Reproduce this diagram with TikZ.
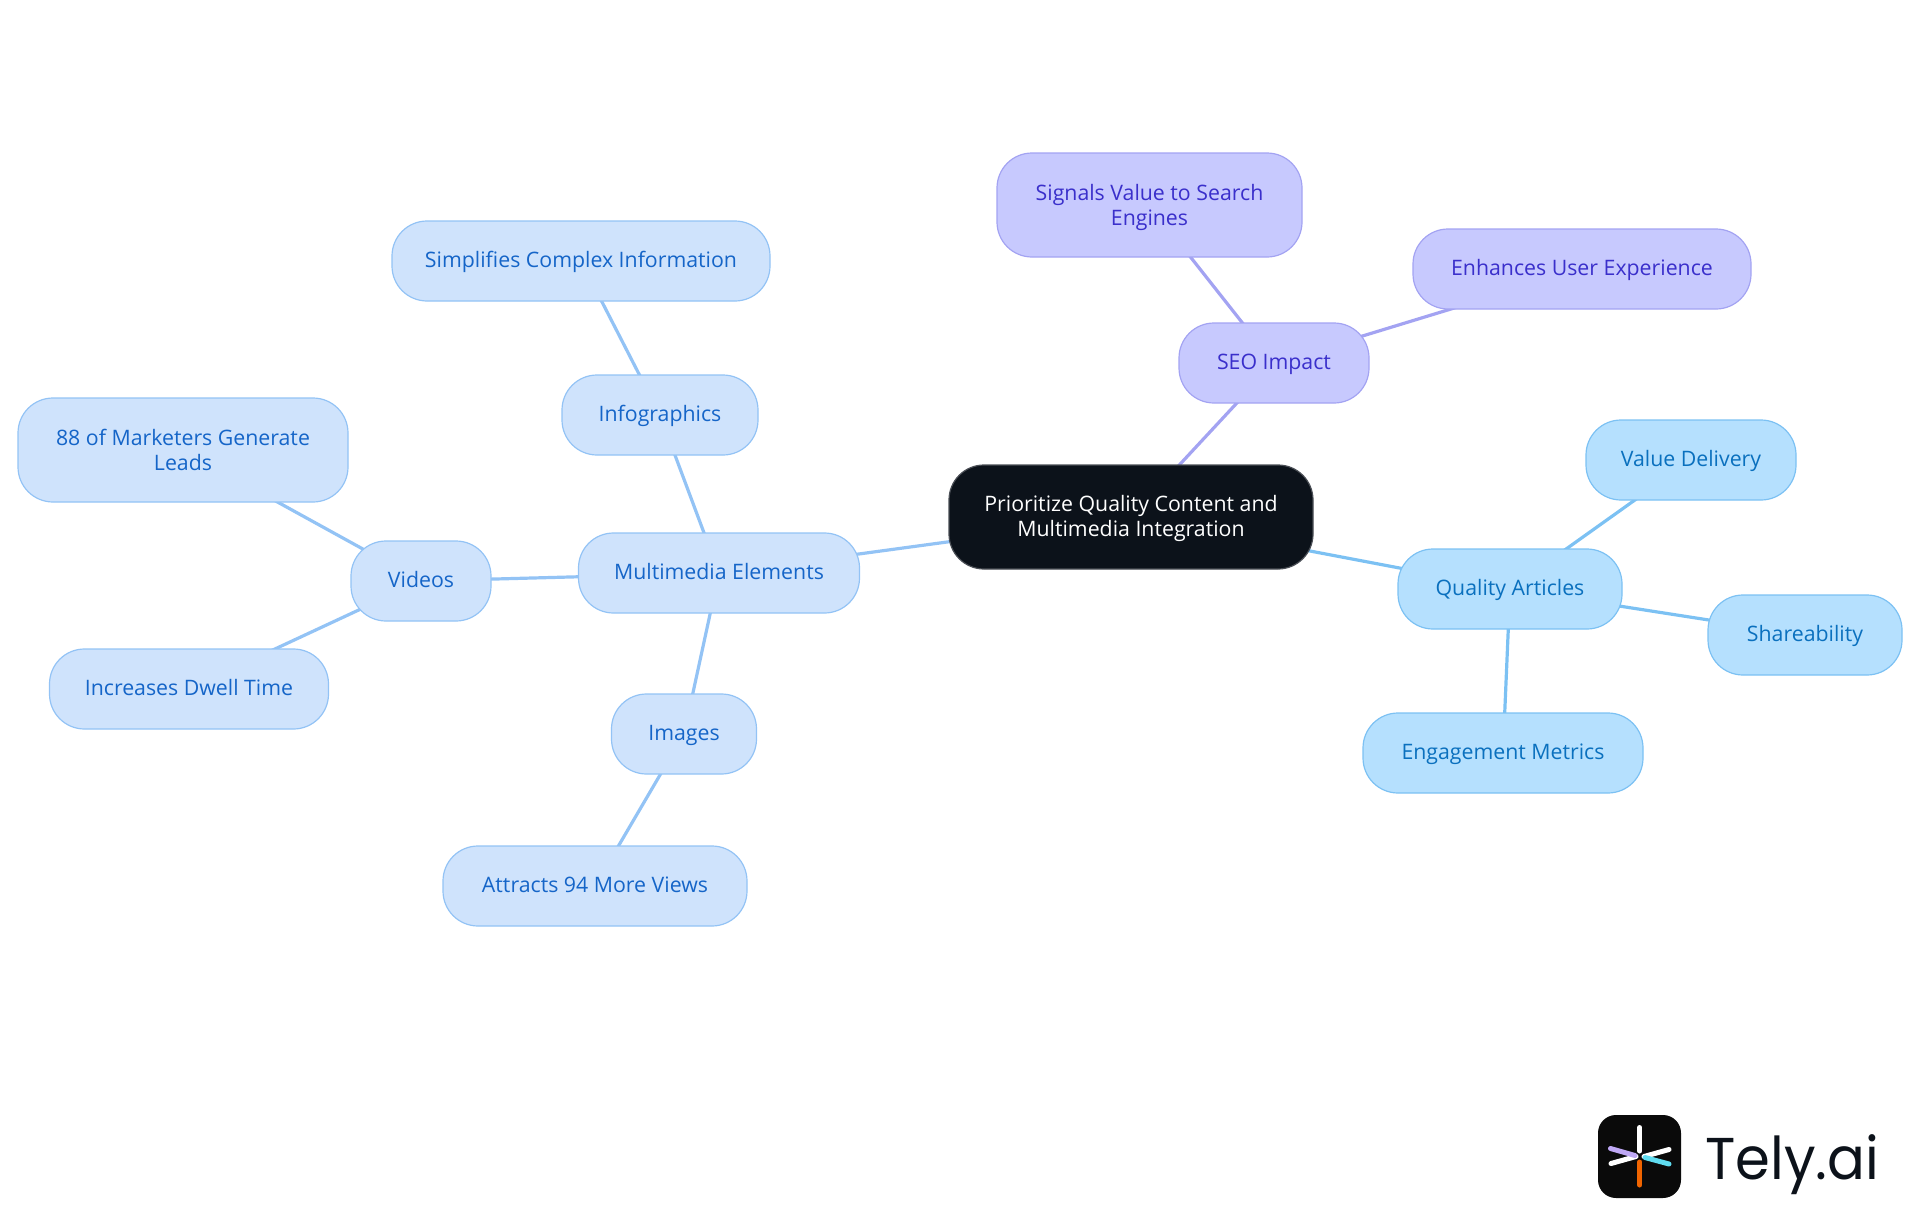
\documentclass[tikz,border=0pt]{standalone}
\usepackage{fontspec}
\setmainfont{Open Sans}
\newfontfamily\logofont[FakeStretch=0.95]{Poppins}
\usetikzlibrary{backgrounds}
\definecolor{rootfill}{HTML}{0C121A}
\definecolor{rootline}{HTML}{4A4E55}
\definecolor{seofill}{HTML}{C7C9FE}
\definecolor{seoline}{HTML}{A3A3F2}
\definecolor{seotext}{HTML}{3A2FCB}
\definecolor{blufill}{HTML}{CFE3FC}
\definecolor{bluline}{HTML}{93C3F5}
\definecolor{blutext}{HTML}{1565C8}
\definecolor{skyfill}{HTML}{B5E0FE}
\definecolor{skyline}{HTML}{7CC1F3}
\definecolor{skytext}{HTML}{0A70BE}
\definecolor{logoblack}{HTML}{0A0A0A}
\definecolor{logoorange}{HTML}{F06400}
\definecolor{logolav}{HTML}{BFA8F5}
\definecolor{logocyan}{HTML}{5FDCF0}
\newcommand{\mmstrut}{\rule[-6pt]{0pt}{24pt}}
\newcommand{\mmstruta}{\rule[-6pt]{0pt}{26pt}}
\newcommand{\mmstrutb}{\rule[-6pt]{0pt}{28pt}}
\tikzset{
  x=1pt,y=-1pt,
  mmnode/.style={rounded corners=35pt,line width=1.2pt,align=center,inner sep=0pt,font=\fontsize{21.3}{24.5}\selectfont},
  rootnode/.style={mmnode,fill=rootfill,draw=rootline,text=white},
  seonode/.style={mmnode,fill=seofill,draw=seoline,text=seotext},
  blunode/.style={mmnode,fill=blufill,draw=bluline,text=blutext},
  skynode/.style={mmnode,fill=skyfill,draw=skyline,text=skytext},
  seoedge/.style={draw=seoline,line width=3.2pt},
  bluedge/.style={draw=bluline,line width=3.2pt},
  skyedge/.style={draw=skyline,line width=3.2pt},
  logobar/.style={line width=5pt,line cap=round},
}
\newcommand{\mm}[7]{\node[#1,minimum width=#5pt,minimum height=#6pt] (#2) at (#3,#4) {#7};}
\begin{document}
\begin{tikzpicture}
\useasboundingbox (0,0) rectangle (1920,1215);
\mm{rootnode}{root}{1131}{517}{364}{104}{\mmstruta Prioritize Quality Content and\\\mmstrut Multimedia Integration}
\mm{seonode}{seo}{1274}{363}{190}{80}{\mmstrut SEO Impact}
\mm{seonode}{signals}{1149.5}{205}{305}{104}{\mmstrutb Signals Value to Search\\\mmstrut Engines}
\mm{seonode}{enh}{1582}{269}{338}{80}{\mmstrut Enhances User Experience}
\mm{skynode}{qual}{1510}{589}{224}{80}{\mmstrut Quality Articles}
\mm{skynode}{val}{1691}{460}{210}{80}{\mmstrut Value Delivery}
\mm{skynode}{share}{1805}{635}{194}{80}{\mmstrut Shareability}
\mm{skynode}{eng}{1503}{753}{280}{80}{\mmstrut Engagement Metrics}
\mm{blunode}{multi}{719}{573}{281}{80}{\mmstrut Multimedia Elements}
\mm{blunode}{info}{660}{415}{196}{80}{\mmstrut Infographics}
\mm{blunode}{simp}{581}{261}{378}{80}{\mmstrut Simplifies Complex Information}
\mm{blunode}{vid}{421}{581}{140}{80}{\mmstrut Videos}
\mm{blunode}{mark}{183}{450}{330}{104}{\mmstrutb 88 of Marketers Generate\\\mmstrut Leads}
\mm{blunode}{dwell}{189}{689}{279}{80}{\mmstrut Increases Dwell Time}
\mm{blunode}{img}{684}{734}{145}{80}{\mmstrut Images}
\mm{blunode}{attr}{595}{886}{304}{80}{\mmstrut Attracts 94 More Views}
\begin{scope}[on background layer]
\draw[seoedge] (root.center) -- (seo.center);
\draw[seoedge] (seo.center) -- (signals.center);
\draw[seoedge] (seo.center) -- (enh.center);
\draw[skyedge] (root.center) -- (qual.center);
\draw[skyedge] (qual.center) -- (val.center);
\draw[skyedge] (qual.center) -- (share.center);
\draw[skyedge] (qual.center) -- (eng.center);
\draw[bluedge] (root.center) -- (multi.center);
\draw[bluedge] (multi.center) -- (info.center);
\draw[bluedge] (info.center) -- (simp.center);
\draw[bluedge] (multi.center) -- (vid.center);
\draw[bluedge] (vid.center) -- (mark.center);
\draw[bluedge] (vid.center) -- (dwell.center);
\draw[bluedge] (multi.center) -- (img.center);
\draw[bluedge] (img.center) -- (attr.center);
\end{scope}
% logo
\fill[logoblack,rounded corners=18pt] (1598,1115) rectangle (1681,1198);
\draw[logobar,white] (1639.7,1127.5) -- (1639.7,1151);
\draw[logobar,logoorange] (1639.7,1162) -- (1639.7,1185);
\draw[logobar,white] (1611,1163.5) -- (1636,1156.5);
\draw[logobar,white] (1669,1149.5) -- (1644,1156.5);
\draw[logobar,logolav] (1610.5,1148.5) -- (1635,1155.5);
\draw[logobar,logocyan] (1645,1157.5) -- (1669,1164);
\node[anchor=base west,inner sep=0pt,text=rootfill,font=\logofont\fontsize{59}{59}\selectfont] (logotext) at (1705,1179) {Tely.ai};
\end{tikzpicture}
\end{document}
